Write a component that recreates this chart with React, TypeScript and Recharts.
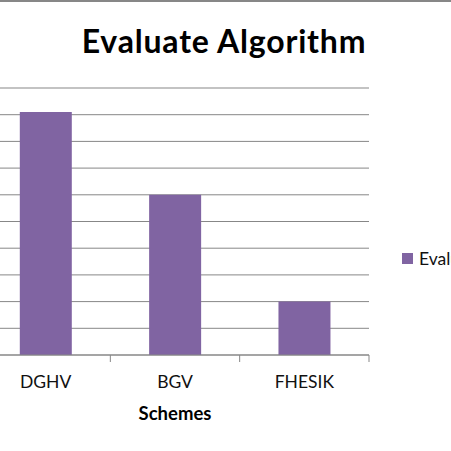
import { BarChart, Bar, CartesianGrid, Legend, XAxis, YAxis } from "recharts";

const schemes = ["DGHV", "BGV", "FHESIK"];
const evaluateValues = [9.1, 6, 2];
const yTicks = [0, 1, 2, 3, 4, 5, 6, 7, 8, 9, 10];
const seriesName = "Evaluate Algorithm";
const chartTitle = "Evaluate Algorithm";
const xTitle = "Schemes";

const data = schemes.map((scheme, i) => ({ scheme, value: evaluateValues[i] }));

const FONT = "Lato, 'Open Sans', sans-serif";
const GRID = "#878787";
const PURPLE = "#8064A2";

function SchemeTick(props: any) {
  const { x, y, payload } = props;
  const half = payload.offset ?? 0;
  return (
    <g>
      <line x1={x + half} x2={x + half} y1={y} y2={y + 7} stroke={GRID} />
      <text x={x} y={y + 33} textAnchor="middle" fontFamily={FONT} fontSize={17.5} fill="#111">
        {payload.value}
      </text>
    </g>
  );
}

function LegendBox() {
  return (
    <svg width={200} height={30} style={{ display: "block" }}>
      <rect x={6} y={8} width={11} height={11} fill={PURPLE} />
      <text x={23} y={20} fontFamily={FONT} fontSize={17.5} fill="#111">{seriesName}</text>
    </svg>
  );
}

export default function App() {
  return (
    <div style={{ position: "fixed", left: 0, top: 0, width: 451, height: 451, overflow: "hidden", background: "#fff" }}>
      <div style={{ position: "absolute", left: 0, top: 0, width: 451, height: 2, background: GRID }} />
      <svg width={451} height={70} style={{ position: "absolute", left: 0, top: 0 }}>
        <text x={224} y={53} textAnchor="middle" fontFamily={FONT} fontWeight="bold" fontSize={32} letterSpacing={0.8} fill="#000">
          {chartTitle}
        </text>
      </svg>
      <div style={{ position: "absolute", left: 0, top: 0 }}>
        <BarChart width={451} height={451} data={data} margin={{ top: 88, right: 82, left: -19, bottom: 31 }} barCategoryGap="30%">
          <CartesianGrid vertical={false} stroke={GRID} />
          <YAxis hide domain={[0, 10]} ticks={yTicks} />
          <XAxis
            dataKey="scheme"
            height={65}
            stroke={GRID}
            tickLine={false}
            tickSize={0}
            tickMargin={0}
            tick={<SchemeTick />}
            interval={0}
            label={{ value: xTitle, position: "insideBottom", offset: 0, fontFamily: FONT, fontWeight: "bold", fontSize: 18.5, fill: "#000" }}
          />
          <Legend
            layout="vertical"
            align="center"
            verticalAlign="middle"
            wrapperStyle={{ left: 396, top: 245, width: 200 }}
            content={() => <LegendBox />}
          />
          <Bar dataKey="value" name={seriesName} fill={PURPLE} isAnimationActive={false} />
        </BarChart>
      </div>
    </div>
  );
}
